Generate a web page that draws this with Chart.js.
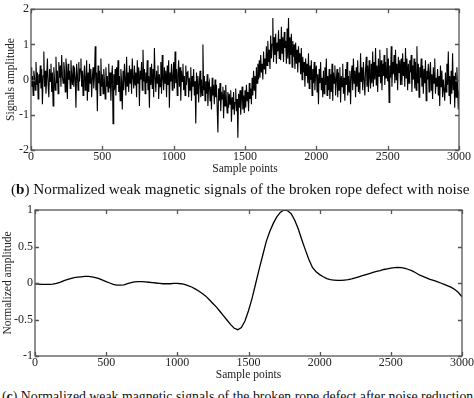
<!DOCTYPE html>
<html>
<head>
<meta charset="utf-8">
<script src="https://cdn.jsdelivr.net/npm/chart.js@4/dist/chart.umd.min.js"></script>
<style>
  html, body { margin: 0; padding: 0; background: #fff; }
  body { width: 474px; height: 398px; position: relative; overflow: hidden; font-family: "Liberation Serif", "DejaVu Serif", serif; }
  .wrap { position: absolute; left: 0; width: 474px; }
  #w1 { top: 0; height: 176px; }
  #w2 { top: 190px; height: 192px; }
  .cap { position: absolute; white-space: nowrap; color: #111; }
  #cap1 { top: 181px; left: 11px; font-size: 15.2px; line-height: 15.2px; }
  #cap2 { top: 390px; left: 2px; font-size: 13.8px; line-height: 13.8px; }
</style>
</head>
<body>
<div class="wrap" id="w1"><canvas id="c1"></canvas></div>
<div class="wrap" id="w2"><canvas id="c2"></canvas></div>
<div class="cap" id="cap1">(<b>b</b>) Normalized weak magnetic signals of the broken rope defect with noise</div>
<div class="cap" id="cap2">(<b>c</b>) Normalized weak magnetic signals of the broken rope defect after noise reduction</div>
<script>
// ---------- data ----------
// noisy signal, one reading every 5 samples (0..3000)
const noisyStep = 5;
const noisyValues = [
  0.35, -0.2, 0.1, -0.45, 0.25, 0.05, -0.3, 0.5, -0.15, 0.2,
  -0.55, 0.15, -0.1, 0.4, -0.25, 0.3, -0.7, 0.1, 0.8, -0.2,
  0.25, -0.4, 0.05, 0.6, -0.15, -0.5, 0.3, -0.05, 0.45, -0.35,
  0.2, -0.75, 0.35, 0.0, -0.3, 0.65, -0.1, 0.25, -0.4, 0.5,
  0.05, 0.4, -0.2, 0.7, 0.1, -0.1, 0.5, 0.25, -0.35, 0.6,
  0.3, -0.55, 0.45, 0.0, 0.25, -0.25, 0.55, 0.1, -0.15, 0.4,
  -0.2, 0.35, 0.05, -0.8, 0.45, 0.15, -0.3, 0.5, -0.05, 0.3,
  0.6, -0.2, 0.25, -0.45, 0.1, 0.4, -0.3, 0.0, 0.55, -0.6,
  0.2, -0.35, 0.45, -0.1, 0.3, -0.5, 0.05, 0.35, -0.25, 0.1,
  0.95, -0.3, 0.2, -0.9, 0.4, -0.1, 0.25, -0.45, 0.6, -0.2,
  0.15, -0.4, 0.3, -0.05, -0.55, 0.35, -0.2, 0.1, -0.35, 0.45,
  -0.25, 0.2, -0.6, 0.05, 0.4, -1.25, 0.15, -0.3, 0.3, -0.45,
  0.35, -0.15, 0.55, -0.35, 0.1, -0.6, 0.3, -0.05, -0.85, 0.25,
  -0.3, 0.45, 0.0, -0.45, 0.65, -0.2, 0.2, -0.35, 0.4, -0.1,
  0.3, -0.4, 0.6, 0.05, -0.25, 0.4, -0.15, 0.2, -0.5, 0.55,
  -0.1, 0.35, -0.75, 0.25, 0.0, 0.5, -0.3, 0.85, -0.05, 0.3,
  -0.4, 0.2, -0.1, 0.55, -0.3, 0.1, -0.8, 0.35, -0.15, 0.45,
  -0.25, 0.3, -0.5, 0.9, 0.05, -0.35, 0.25, -0.1, 0.4, -0.55,
  0.15, -0.2, 0.5, -0.4, 0.7, 0.0, -0.3, 0.35, -0.1, 0.25,
  -0.5, 0.4, -0.15, 0.55, -0.8, 0.2, -0.05, 0.45, -0.3, 0.1,
  0.5, -0.25, 0.8, -0.1, 0.3, -0.45, 0.15, 0.55, -0.2, 0.35,
  -0.6, 0.25, -0.05, 0.45, -0.3, 0.1, -0.45, 0.4, -0.15, 0.2,
  0.25, -0.5, 0.05, -0.3, 0.35, -0.6, 0.1, -0.2, 0.3, -0.45,
  -0.05, -1.25, 0.2, -0.4, 0.1, -0.65, -0.1, 0.25, -0.5, 0.0,
  -0.45, 1.0, -0.3, 0.1, -0.6, -0.05, -0.4, 0.15, -0.75, -0.15,
  -0.05, -0.6, -0.2, -0.85, 0.05, -0.45, -0.15, -0.7, 0.0, -0.5,
  -0.15, -0.8, -1.5, -0.25, -0.6, -0.1, -0.9, -0.35, -0.55, -0.2,
  -1.1, -0.3, -0.75, -0.15, -0.6, -0.95, -0.35, -0.8, -0.4, -0.7,
  -0.3, -1.2, -0.5, -0.85, -0.35, -1.0, -0.65, -0.25, -0.9, -0.55,
  -1.65, -0.4, -0.8, -0.3, -1.0, -0.55, -0.2, -0.85, -0.45, -0.95,
  -0.3, -0.8, -0.15, -0.6, -0.35, -0.9, -0.1, -0.55, -0.25, -0.7,
  0.05, -0.45, 0.25, -0.3, 0.1, -0.55, 0.35, -0.1, 0.45, 0.0,
  0.55, 0.05, 0.7, 0.2, 0.45, 0.0, 0.8, 0.3, 0.6, 0.15,
  0.95, 0.4, 1.1, 0.5, 0.85, 0.3, 1.25, 0.6, 1.0, 1.75,
  0.5, 1.2, 0.7, 1.3, 0.45, 1.05, 0.8, 1.4, 0.6, 1.15,
  0.55, 1.5, 0.75, 1.2, 0.5, 1.35, 0.9, 1.1, 0.45, 1.45,
  0.6, 1.75, 0.45, 1.2, 0.7, 1.3, 0.35, 1.1, 0.65, 1.0,
  0.3, 1.05, 0.45, 0.85, 0.2, 0.95, 0.5, 0.75, 0.15, 0.9,
  0.0, 0.65, 0.2, 0.5, -0.2, 0.6, 0.1, 0.45, -0.1, 0.75,
  -0.25, 0.4, 0.0, 0.55, -0.45, 0.3, -0.1, 0.5, -0.3, 0.2,
  0.4, -0.35, 0.15, -0.7, 0.3, -0.1, 0.5, -0.3, 0.05, -0.5,
  0.25, -0.4, 0.35, -0.15, 0.6, -0.45, 0.1, -0.3, 0.3, -0.55,
  0.15, -0.35, 0.45, -0.6, 0.2, -0.1, 0.4, -0.45, 0.0, 0.3,
  -0.5, 0.2, -0.3, 0.35, -0.65, 0.1, -0.2, 0.45, -0.4, 0.05,
  -0.6, 0.3, -0.15, 0.5, -0.45, 0.1, -0.35, 0.25, -0.7, 0.15,
  0.4, -0.3, 0.6, -0.1, 0.25, -0.5, 0.35, -0.2, 0.55, -0.35,
  0.2, -0.4, 0.75, -0.05, 0.35, -0.3, 0.5, 0.0, -0.45, 0.3,
  0.65, -0.2, 0.4, -0.35, 0.55, 0.05, -0.25, 0.45, -0.1, 0.8,
  -0.2, 0.5, 0.0, 0.9, -0.15, 0.4, -0.35, 0.6, 0.1, 0.85,
  -0.1, 0.55, -0.3, 0.45, 0.1, 0.7, -0.15, 0.5, 0.05, 0.9,
  -0.05, 0.6, -0.65, 0.4, 0.05, 0.95, -0.2, 0.5, 0.15, 0.7,
  -0.1, 0.85, 0.0, 0.45, -0.3, 0.65, 0.2, 0.55, -0.15, 0.6,
  -0.15, 0.75, 0.1, 0.5, -0.2, 0.9, 0.05, 0.6, -0.3, 0.45,
  -0.1, 0.55, 0.2, 0.7, -0.35, 0.4, 0.0, 0.6, -0.25, 0.5,
  -0.3, 0.95, -0.1, 0.45, -0.5, 0.35, 0.05, 0.6, -0.2, 0.4,
  -0.4, 0.3, -0.1, 0.55, -0.6, 0.25, 0.0, 0.45, -0.35, 0.2,
  0.5, -0.3, 0.15, -0.55, 0.35, -0.1, 0.6, -0.4, 0.05, -0.2,
  0.3, -0.45, 0.1, -0.75, 0.4, -0.2, 0.25, -0.5, 0.0, -0.3,
  -0.6, 0.2, -0.35, 0.45, -0.15, 0.8, -0.45, 0.1, -0.7, 0.25,
  -0.4, 0.75, -0.3, 0.1, -0.8, 0.2, -0.5, 0.35, -0.25, -0.85,
  -0.3
];
// denoised signal, one reading every 25 samples (0..3000)
const denoisedStep = 25;
const denoisedValues = [
  -0.01, -0.015, -0.02, -0.02, -0.02, -0.015, -0.005, 0.01, 0.03, 0.045,
  0.06, 0.075, 0.08, 0.085, 0.09, 0.09, 0.085, 0.075, 0.06, 0.04,
  0.02, 0.0, -0.02, -0.03, -0.03, -0.025, -0.01, 0.005, 0.015, 0.02,
  0.02, 0.015, 0.01, 0.005, 0.0, -0.005, -0.01, -0.01, -0.01, -0.005,
  -0.005, -0.01, -0.02, -0.035, -0.055, -0.08, -0.11, -0.145, -0.18, -0.23,
  -0.28, -0.33, -0.39, -0.45, -0.51, -0.57, -0.62, -0.64, -0.61, -0.52,
  -0.38, -0.21, -0.01, 0.19, 0.38, 0.57, 0.71, 0.82, 0.91, 0.97,
  1.0, 0.99, 0.95, 0.86, 0.74, 0.59, 0.45, 0.32, 0.21, 0.155,
  0.115, 0.085, 0.06, 0.045, 0.04, 0.035, 0.035, 0.04, 0.045, 0.055,
  0.07, 0.085, 0.1, 0.115, 0.13, 0.145, 0.16, 0.17, 0.185, 0.195,
  0.205, 0.21, 0.215, 0.21, 0.2, 0.185, 0.165, 0.14, 0.11, 0.09,
  0.07, 0.05, 0.035, 0.02, 0.0, -0.02, -0.04, -0.06, -0.09, -0.13,
  -0.19
];
const xTicks = [0, 500, 1000, 1500, 2000, 2500, 3000];

// ---------- helpers ----------
const FONT = "'Liberation Serif', 'Times New Roman', serif";
const toPoints = (vals, step) => vals.map((v, i) => ({ x: i * step, y: v }));

const frame = {
  id: 'frame',
  afterDatasetsDraw(chart) {
    const { ctx, chartArea: a, scales: { x, y } } = chart;
    ctx.save();
    ctx.strokeStyle = '#555';
    ctx.lineWidth = 1.3;
    ctx.beginPath();
    x.ticks.forEach(t => {
      const p = Math.round(x.getPixelForValue(t.value)) + 0.5;
      ctx.moveTo(p, a.bottom); ctx.lineTo(p, a.bottom - 4);
      ctx.moveTo(p, a.top); ctx.lineTo(p, a.top + 4);
    });
    y.ticks.forEach(t => {
      const p = Math.round(y.getPixelForValue(t.value)) + 0.5;
      ctx.moveTo(a.left, p); ctx.lineTo(a.left + 4, p);
      ctx.moveTo(a.right, p); ctx.lineTo(a.right - 4, p);
    });
    ctx.stroke();
    ctx.strokeRect(a.left, a.top, a.right - a.left, a.bottom - a.top);
    ctx.restore();
  }
};

function makeChart(id, data, lineW, yMin, yMax, yStep, yTitle, pad, yW, xH, titlePad) {
  return new Chart(document.getElementById(id), {
    type: 'line',
    data: { datasets: [{ data, borderColor: '#000', borderWidth: lineW, pointRadius: 0, tension: 0, fill: false }] },
    options: {
      responsive: true, maintainAspectRatio: false, animation: false,
      parsing: false, normalized: true,
      layout: { padding: pad },
      plugins: { legend: { display: false }, tooltip: { enabled: false } },
      scales: {
        x: {
          type: 'linear', min: 0, max: 3000,
          afterBuildTicks: s => { s.ticks = xTicks.map(v => ({ value: v })); },
          afterFit: s => { s.height = xH; },
          grid: { display: false, drawTicks: false }, border: { display: false },
          ticks: { padding: 0, maxRotation: 0, autoSkip: false, color: '#222', font: { family: FONT, size: 12 },
                   callback: v => String(v) },
          title: { display: true, text: 'Sample points', color: '#222', padding: 0, font: { family: FONT, size: 11.5 } }
        },
        y: {
          type: 'linear', min: yMin, max: yMax,
          ticks: { stepSize: yStep, padding: 2, color: '#222', font: { family: FONT, size: 12 },
                   callback: v => String(v) },
          afterFit: s => { s.width = yW; },
          grid: { display: false, drawTicks: false }, border: { display: false },
          title: { display: true, text: yTitle, color: '#222', padding: { top: titlePad, bottom: 0 }, font: { family: FONT, size: 11.5 } }
        }
      }
    },
    plugins: [frame]
  });
}

makeChart('c1', toPoints(noisyValues, noisyStep), 1.1, -2, 2, 1, 'Signals amplitude',
  { top: 5, right: 15, left: 0, bottom: 0 }, 31, 26, 4);
makeChart('c2', toPoints(denoisedValues, denoisedStep), 1.3, -1, 1, 0.5, 'Normalized amplitude',
  { top: 20, right: 11, left: 0, bottom: 0 }, 35, 26, 1);
</script>
</body>
</html>
